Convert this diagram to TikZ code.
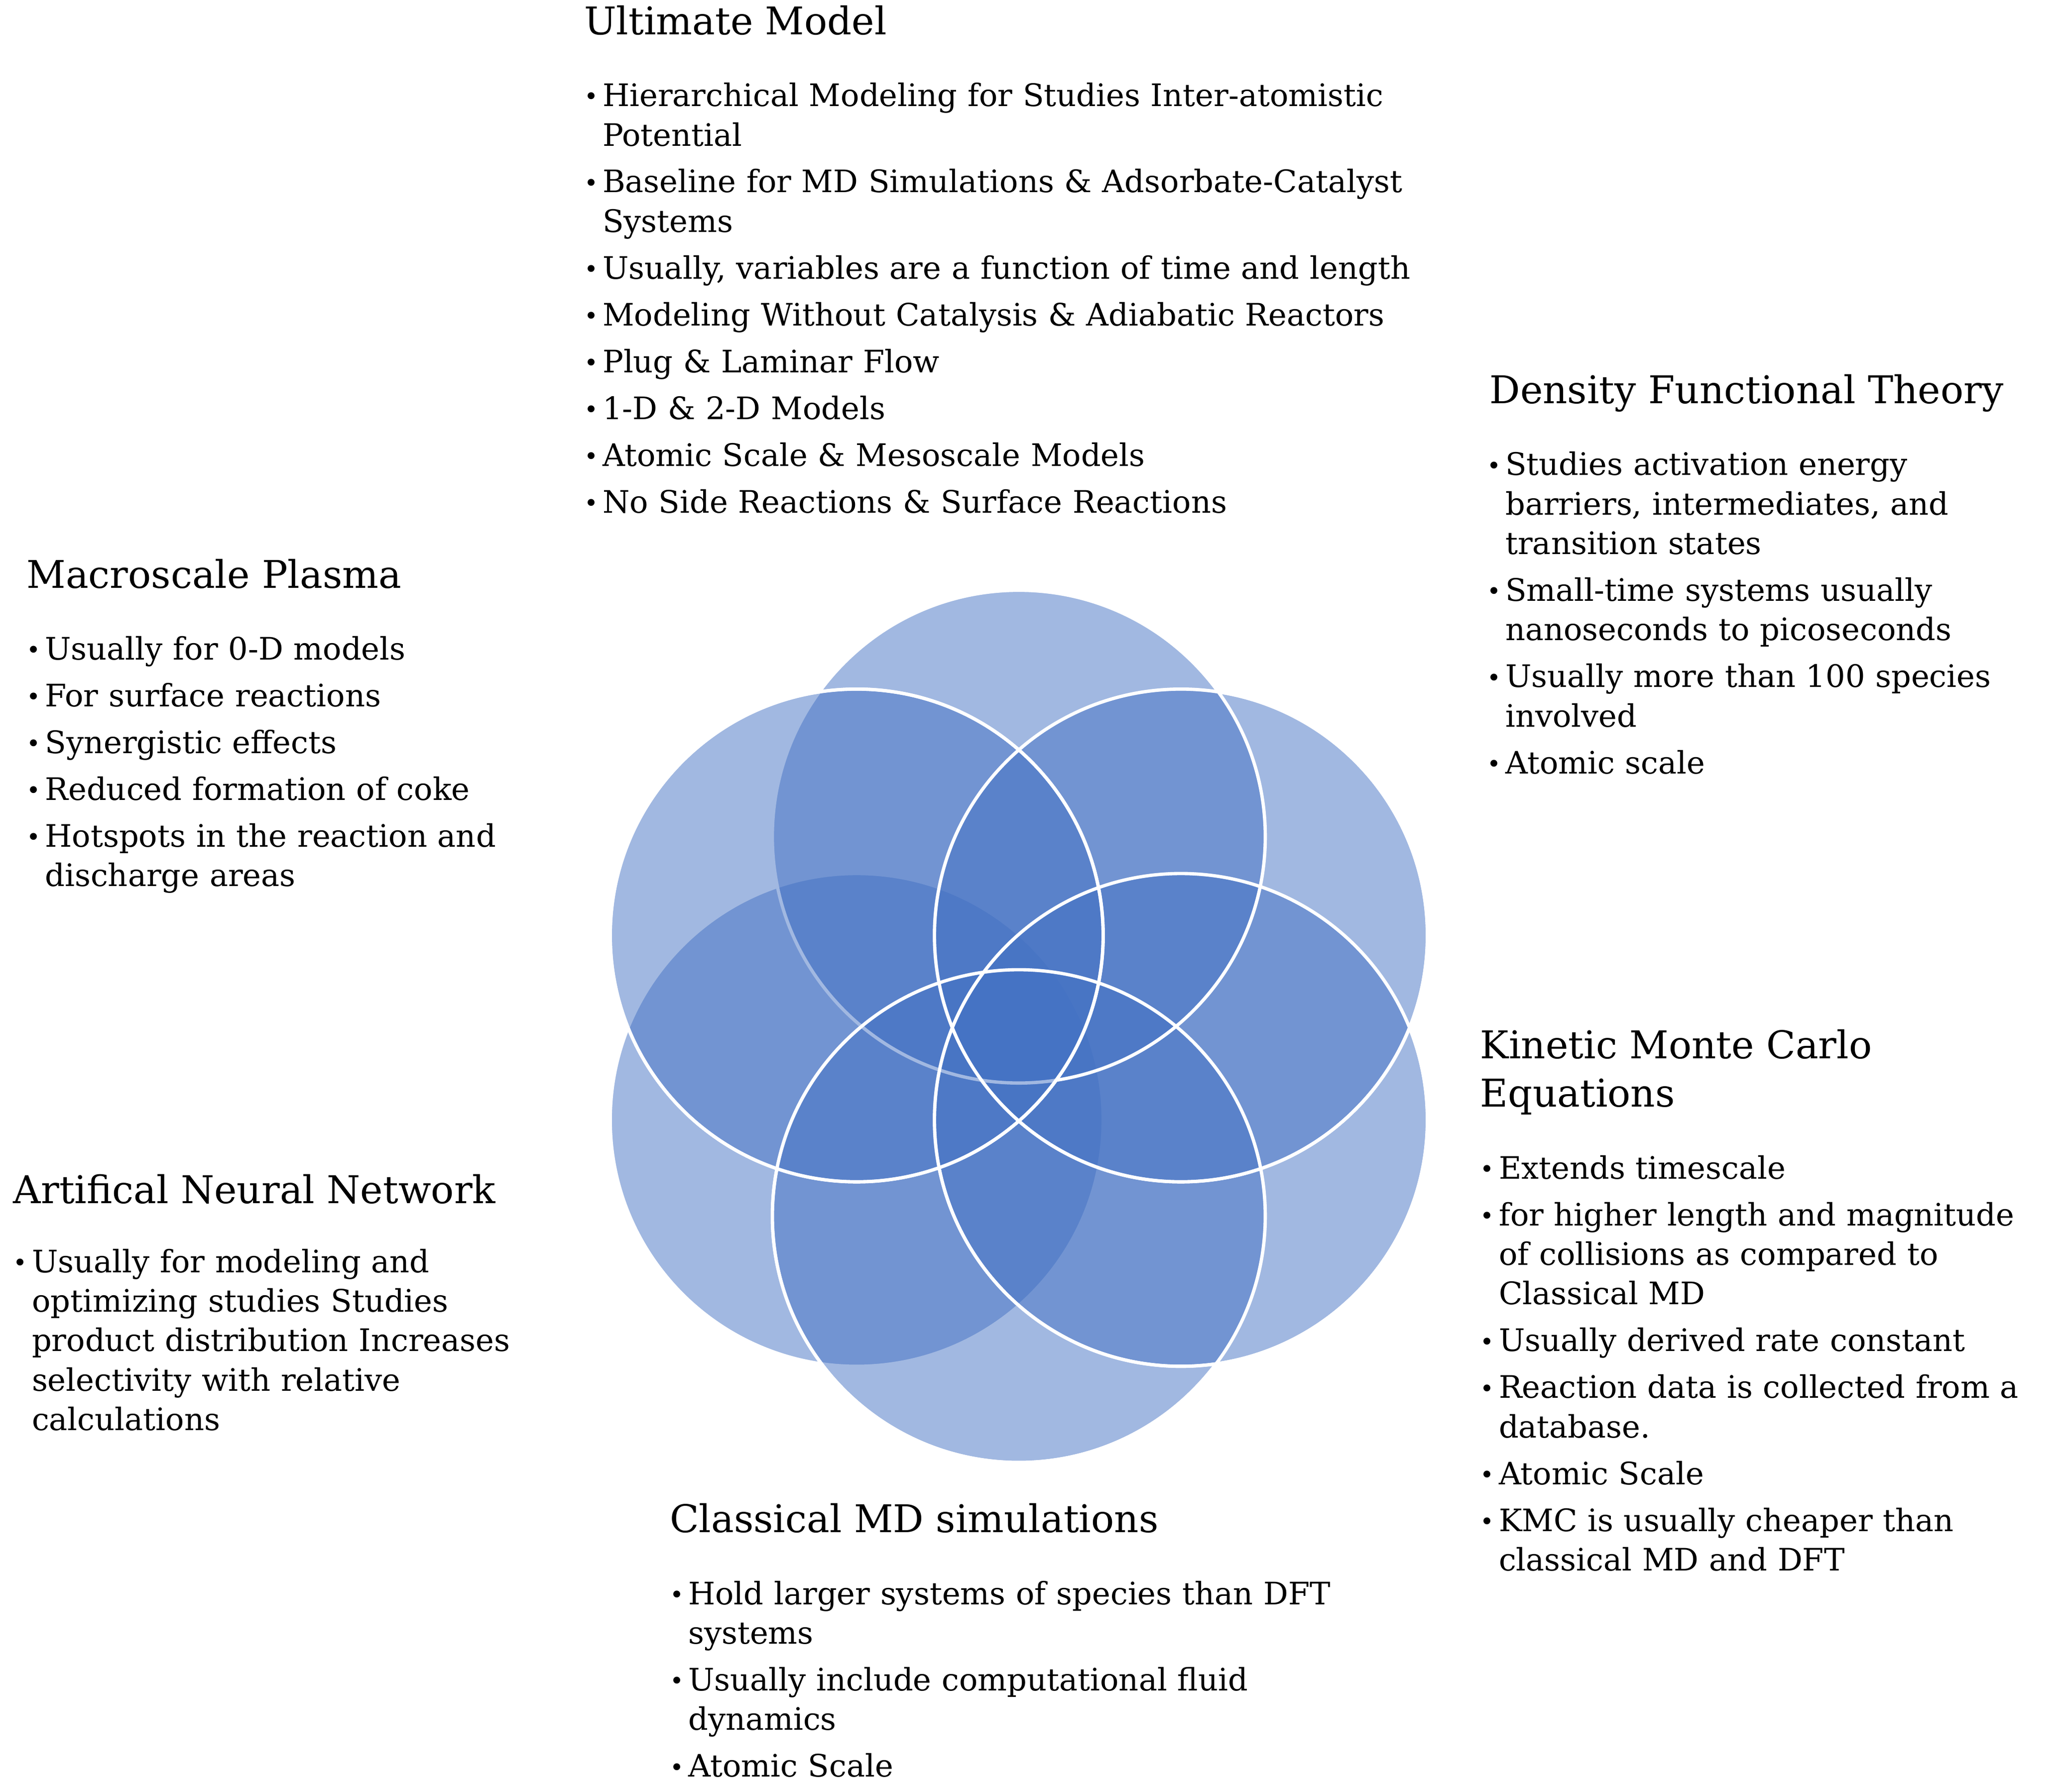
\documentclass[tikz,border=0pt]{standalone}
\usepackage{fontspec}
\setmainfont{DejaVu Serif}
\definecolor{cblue}{HTML}{4472C4}
\newcommand{\bi}[1]{\par\hangindent=14pt\hangafter=1\noindent\makebox[14pt][l]{\raisebox{1pt}{\fontsize{18}{18}\selectfont\textbullet}}#1\par}
\tikzset{
  circ/.style={fill=cblue,fill opacity=0.5,draw=white,draw opacity=1,line width=2.5pt},
  blk/.style={anchor=north west,inner sep=0pt,align=left,font=\fontsize{23.5}{30}\selectfont\setlength{\parskip}{5.5pt}},
  ttl/.style={anchor=north west,inner sep=0pt,align=left,font=\fontsize{29}{37}\selectfont}
}
\begin{document}
\begin{tikzpicture}[x=1pt,y=-1pt]
\useasboundingbox (0,0) rectangle (1563,1360);
\fill[white] (0,0) rectangle (1563,1360);
\foreach \n/\cx/\cy in {c1/650/850,c2/773/923,c3/896/850,c4/896/710,c5/773/635,c6/650/710}
  \path[circ] (\cx,\cy) circle (187);
\draw[white,line width=2.5pt] (650,710) circle (187) (773,923) circle (187) (896,850) circle (187) (896,710) circle (187);

\node[ttl] (t1) at (443,4) {Ultimate Model};
\node[blk,text width=700pt] (b1) at (443,45) {%
\bi{Hierarchical Modeling for Studies Inter-atomistic\newline Potential}
\bi{Baseline for MD Simulations \& Adsorbate-Catalyst\newline Systems}
\bi{Usually, variables are a function of time and length}
\bi{Modeling Without Catalysis \& Adiabatic Reactors}
\bi{Plug \& Laminar Flow}
\bi{1-D \& 2-D Models}
\bi{Atomic Scale \& Mesoscale Models}
\bi{No Side Reactions \& Surface Reactions}};

\node[ttl] (t2) at (1130,284) {Density Functional Theory};
\node[blk,text width=430pt] (b2) at (1128,325) {%
\bi{Studies activation energy\newline barriers, intermediates, and\newline transition states}
\bi{Small-time systems usually\newline nanoseconds to picoseconds}
\bi{Usually more than 100 species\newline involved}
\bi{Atomic scale}};

\node[ttl] (t3) at (20,424) {Macroscale Plasma};
\node[blk,text width=430pt] (b3) at (20,465) {%
\bi{Usually for 0-D models}
\bi{For surface reactions}
\bi{Synergistic effects}
\bi{Reduced formation of coke}
\bi{Hotspots in the reaction and\newline discharge areas}};

\node[ttl] (t4) at (1123,781) {Kinetic Monte Carlo\\Equations};
\node[blk,text width=440pt] (b4) at (1123,859) {%
\bi{Extends timescale}
\bi{for higher length and magnitude\newline of collisions as compared to\newline Classical MD}
\bi{Usually derived rate constant}
\bi{Reaction data is collected from a\newline database.}
\bi{Atomic Scale}
\bi{KMC is usually cheaper than\newline classical MD and DFT}};

\node[ttl] (t5) at (10,891) {Artifical Neural Network};
\node[blk,text width=430pt] (b5) at (10,930) {%
\bi{Usually for modeling and\newline optimizing studies Studies\newline product distribution Increases\newline selectivity with relative\newline calculations}};

\node[ttl] (t6) at (508,1141) {Classical MD simulations};
\node[blk,text width=600pt] (b6) at (508,1182) {%
\bi{Hold larger systems of species than DFT\newline systems}
\bi{Usually include computational fluid\newline dynamics}
\bi{Atomic Scale}};
\end{tikzpicture}
\end{document}
